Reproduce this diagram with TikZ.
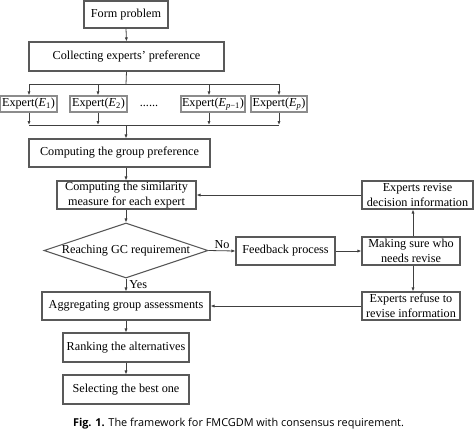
\documentclass[tikz,border=0pt]{standalone}
\usepackage{fontspec}
\setmainfont{Liberation Serif}
\newfontfamily\capfont{Open Sans}
\usetikzlibrary{arrows.meta,shapes.geometric,calc}
\begin{document}
\begin{tikzpicture}[x=1bp,y=-1bp,
  box/.style={draw=black!65,line width=1.1bp,inner sep=0pt,align=center,
    font=\fontsize{12.2bp}{14.5bp}\selectfont},
  ebox/.style={box,draw=black!45,line width=1.3bp,minimum height=16bp},
  conn/.style={draw=black!75,line width=0.8bp},
  arr/.style={conn,-{Latex[length=4bp,width=3.2bp]}},
  lbl/.style={inner sep=0pt,font=\fontsize{12.2bp}{14.5bp}\selectfont}]
\useasboundingbox (0,0) rectangle (474,430);
% main column
\node[box,minimum width=84bp,minimum height=27bp] (fp) at (126,14.5) {Form problem};
\node[box,minimum width=195bp,minimum height=29bp] (ce) at (126.5,56.5) {Collecting experts' preference};
\node[ebox,minimum width=57bp] (e1) at (28.5,104) {Expert({\itshape E}\textsubscript{1})};
\node[ebox,minimum width=57bp] (e2) at (98.5,104) {Expert({\itshape E}\textsubscript{2})};
\node[lbl,anchor=base] (dots) at (149,106.5) {......};
\node[ebox,minimum width=64bp] (e3) at (213,104) {Expert({\itshape E}\textsubscript{{\itshape p}−1})};
\node[ebox,minimum width=56bp] (e4) at (279,104) {Expert({\itshape E}\textsubscript{{\itshape p}})};
\node[box,minimum width=181bp,minimum height=28bp] (gp) at (119.5,153) {Computing the group preference};
\node[box,minimum width=139bp,minimum height=28bp] (sm) at (126.5,195) {Computing the similarity\\measure for each expert};
\node[diamond,draw=black!65,line width=1.1bp,inner sep=0pt,minimum width=164bp,minimum height=55bp] (dm) at (126,250.5) {};
\node[lbl] (dmt) at (dm.center) {Reaching GC requirement};
\node[box,minimum width=99bp,minimum height=28bp] (fb) at (285.5,251) {Feedback process};
\node[box,minimum width=98bp,minimum height=28bp] (ms) at (411,251) {Making sure who\\needs revise};
\node[box,minimum width=111bp,minimum height=28bp] (rv) at (417.5,195) {Experts revise\\decision information};
\node[box,minimum width=98bp,minimum height=28bp] (rf) at (411,306) {Experts refuse to\\revise information};
\node[box,minimum width=168bp,minimum height=28bp] (ag) at (126,306) {Aggregating group assessments};
\node[box,minimum width=126bp,minimum height=29bp] (rk) at (126,347.5) {Ranking the alternatives};
\node[box,minimum width=126bp,minimum height=29bp] (sb) at (126,389.5) {Selecting the best one};
% branch coordinates
\coordinate (bs) at (126,84);
\coordinate (bm) at (126,125);
% connectors
\draw[arr] (fp.south) -- (ce.north);
\draw[conn] (ce.south) -- (bs);
\draw[conn] (bs -| 29,0) -- (bs -| 279,0);
\foreach \n/\x in {e1/29,e2/98,e3/209,e4/279}{
  \draw[arr] (\x,84) -- (\n.north -| \x,0);
  \draw[arr] (\n.south -| \x,0) -- (\x,125);
}
\draw[conn] (bm -| 29,0) -- (bm -| 279,0);
\draw[arr] (bm) -- (gp.north -| bm);
\draw[arr] (gp.south -| bm) -- (sm.north -| bm);
\draw[arr] (sm.south -| dm.north) -- (dm.north);
\draw[arr] (dm.east) -- node[lbl,above=2bp,pos=0.5] {No} (fb.west);
\draw[arr] (fb.east) -- (ms.west);
\draw[arr] ($(ms.north)+(2,0)$) -- ($(rv.south -| ms.north)+(2,0)$);
\draw[arr] ($(ms.south)+(2,0)$) -- ($(rf.north)+(2,0)$);
\draw[arr] (rv.west) -- (sm.east);
\draw[arr] (rf.west) -- (ag.east);
\draw[arr] (dm.south) -- node[lbl,right=3bp,pos=0.5] {Yes} (ag.north);
\draw[arr] (ag.south) -- (rk.north);
\draw[arr] (rk.south) -- (sb.north);
% caption
\node[inner sep=0pt,font=\capfont\fontsize{10.9bp}{12bp}\selectfont] (cap) at (238.5,424) {\textbf{Fig. 1.} The framework for FMCGDM with consensus requirement.};
\end{tikzpicture}
\end{document}
